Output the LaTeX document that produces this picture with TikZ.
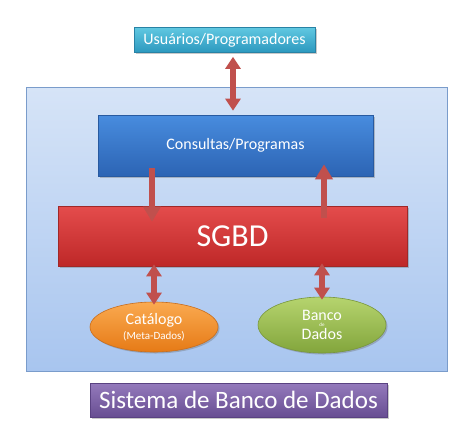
\documentclass[tikz,border=0pt]{standalone}
\usepackage{fontspec}
\setmainfont{Carlito}
\usetikzlibrary{arrows.meta,shapes.geometric,shadows,calc}
\definecolor{arrc}{HTML}{C0504D}
\definecolor{outerb}{HTML}{7A9CCB}
\definecolor{outert}{HTML}{D6E4F7}
\definecolor{outerbt}{HTML}{A8C5EF}
\newcommand{\tightlines}{\lineskiplimit=-30pt\relax}
\tikzset{
  box/.style={rectangle,inner sep=0pt,text=white,line width=0.6pt},
  outerbox/.style={box,draw=outerb,top color=outert,bottom color=outerbt},
  arr/.style={draw=arrc,line width=5.5pt,arrows={-Triangle[length=15pt,width=17pt]}},
  darr/.style={draw=arrc,line width=5.5pt,arrows={Triangle[length=12pt,width=15pt]-Triangle[length=12pt,width=15pt]}},
  shd/.style={drop shadow={shadow xshift=1.5pt,shadow yshift=-1.5pt,opacity=0.35,fill=black!60}},
  elli/.style={ellipse,inner sep=0pt,text=white,line width=0.6pt,align=center,shd}
}
\begin{document}
\begin{tikzpicture}[x=1pt,y=-1pt]
\useasboundingbox (0,0) rectangle (474,440);
\fill[white] (0,0) rectangle (474,440);
% outer system box
\node[outerbox,minimum width=421pt,minimum height=284pt] (sys) at (236.5,229) {};
% users
\node[box,shd,draw={rgb,255:red,40;green,130;blue,165},top color={rgb,255:red,96;green,200;blue,225},bottom color={rgb,255:red,44;green,152;blue,190},minimum width=181pt,minimum height=25pt,font=\fontsize{16}{18}\selectfont] (usr) at (224.5,40) {Usuários/Programadores};
% consultas
\node[box,shd,draw={rgb,255:red,40;green,90;blue,160},top color={rgb,255:red,72;green,140;blue,222},bottom color={rgb,255:red,44;green,100;blue,180},minimum width=275pt,minimum height=61pt,font=\fontsize{16}{18}\selectfont] (cons) at (235.5,145.5) {Consultas/Programas};
% SGBD
\node[box,shd,draw={rgb,255:red,160;green,40;blue,40},top color={rgb,255:red,228;green,76;blue,76},bottom color={rgb,255:red,190;green,40;blue,40},minimum width=349pt,minimum height=60pt,font=\fontsize{32}{34}\selectfont] (sgbd) at (232.5,236) {\raisebox{-2pt}{SGBD}};
% ellipses
\node[elli,draw={rgb,255:red,200;green,110;blue,30},top color={rgb,255:red,250;green,170;blue,80},bottom color={rgb,255:red,230;green,122;blue,22},minimum width=128pt,minimum height=50pt,font={\fontsize{16}{15}\selectfont\tightlines}] (cat) at (154,327)
  {Catálogo\\{\fontsize{11}{15}\selectfont (Meta-Dados)}};
\node[elli,draw={rgb,255:red,120;green,150;blue,60},top color={rgb,255:red,182;green,212;blue,110},bottom color={rgb,255:red,130;green,165;blue,60},minimum width=128pt,minimum height=56pt,font={\fontsize{16}{9.5}\selectfont\tightlines}] (bd) at (322,325)
  {Banco\\[-3pt]{\fontsize{5}{6}\selectfont de}\\[3.5pt]Dados};
% title
\node[box,shd,draw={rgb,255:red,90;green,66;blue,130},top color={rgb,255:red,148;green,122;blue,188},bottom color={rgb,255:red,104;green,78;blue,146},minimum width=297pt,minimum height=34pt,font=\fontsize{25}{27}\selectfont] (title) at (238.5,400) {Sistema de Banco de Dados};
% arrows
\draw[darr,shorten <=4pt,shorten >=4pt] ([xshift=8.5pt]usr.south) -- ([xshift=-2.5pt]cons.north);
\draw[arr] ([xshift=-83.5pt,yshift=8pt]cons.south) -- ([xshift=-80.5pt,yshift=-16pt]sgbd.north);
\draw[arr] ([xshift=91.5pt,yshift=-12pt]sgbd.north) -- ([xshift=88.5pt,yshift=12pt]cons.south);
\draw[darr,shorten <=-2pt,shorten >=-3pt] ([xshift=-78.5pt]sgbd.south) -- (cat.north);
\draw[darr,shorten <=-3pt,shorten >=-3pt] ([xshift=89.5pt]sgbd.south) -- (bd.north);
\end{tikzpicture}
\end{document}
